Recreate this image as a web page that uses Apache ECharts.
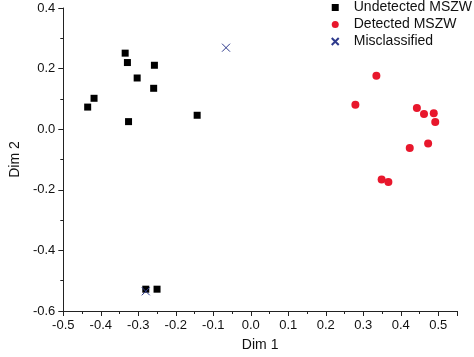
<!DOCTYPE html>
<html>
<head>
<meta charset="utf-8">
<script src="https://cdn.jsdelivr.net/npm/echarts@6/dist/echarts.min.js"></script>
<style>html,body{margin:0;padding:0;background:#fff}#c{width:474px;height:357px}</style>
</head>
<body>
<div id="c"></div>
<script>
var seriesNames = ['Undetected MSZW', 'Detected MSZW', 'Misclassified'];
var undetected = [
  [-0.435, 0.073], [-0.418, 0.102], [-0.335, 0.251], [-0.329, 0.220],
  [-0.303, 0.169], [-0.257, 0.211], [-0.259, 0.135], [-0.326, 0.025],
  [-0.143, 0.046], [-0.280, -0.528], [-0.250, -0.528]
];
var detected = [
  [0.335, 0.176], [0.279, 0.081], [0.443, 0.070], [0.462, 0.050],
  [0.488, 0.053], [0.492, 0.024], [0.473, -0.047], [0.424, -0.062],
  [0.349, -0.166], [0.367, -0.174]
];
var misclassified = [
  [-0.066, 0.269], [-0.280, -0.535]
];
var xTicks = {min: -0.5, max: 0.55, interval: 0.1};
var yTicks = {min: -0.6, max: 0.4, interval: 0.2};

var xPath = 'path://M0,0L10,10M10,0L0,10';
var font = 'Liberation Sans, Arial, sans-serif';
var chart = echarts.init(document.getElementById('c'), null, {renderer: 'canvas'});
function fmt(v) {
  var r = Math.round(v * 10) / 10;
  if (Math.abs(v - r) > 1e-6) return '';
  return r.toFixed(1);
}
var axisCommon = {
  axisLine: {show: true, onZero: false, lineStyle: {color: '#222', width: 1}},
  axisTick: {show: true, inside: false, length: 5, lineStyle: {color: '#222'}},
  minorTick: {show: true, splitNumber: 2, length: 3, lineStyle: {color: '#222'}},
  splitLine: {show: false},
  axisLabel: {color: '#111', fontSize: 13, fontFamily: font, formatter: fmt},
  nameTextStyle: {color: '#111', fontSize: 14, fontFamily: font}
};
chart.setOption({
  animation: false,
  backgroundColor: '#fff',
  grid: {left: 50, right: 17, top: 8, bottom: 44, containLabel: false},
  legend: {
    orient: 'vertical', right: 2, top: -1, itemGap: 0, padding: 0,
    itemWidth: 7, itemHeight: 7,
    textStyle: {fontSize: 14, fontFamily: font, color: '#111', lineHeight: 17, padding: [0, 0, 0, 10]},
    data: [
      {name: seriesNames[0], itemStyle: {opacity: 1}},
      {name: seriesNames[1], itemStyle: {opacity: 1}},
      {name: seriesNames[2]}
    ]
  },
  xAxis: Object.assign({}, axisCommon, {
    type: 'value', min: xTicks.min, max: xTicks.max, interval: xTicks.interval,
    name: 'Dim 1', nameLocation: 'middle', nameGap: 27,
    axisLabel: Object.assign({}, axisCommon.axisLabel, {showMaxLabel: false})
  }),
  yAxis: Object.assign({}, axisCommon, {
    type: 'value', min: yTicks.min, max: yTicks.max, interval: yTicks.interval,
    name: 'Dim 2', nameLocation: 'middle', nameGap: 31
  }),
  series: [
    {name: seriesNames[0], type: 'scatter', symbol: 'rect', symbolSize: 7,
     itemStyle: {color: '#000', opacity: 1}, data: undetected},
    {name: seriesNames[1], type: 'scatter', symbol: 'circle', symbolSize: 8,
     itemStyle: {color: '#e8172c', opacity: 1}, data: detected},
    {name: seriesNames[2], type: 'scatter', symbol: xPath, symbolSize: 8,
     itemStyle: {color: 'rgba(0,0,0,0)', borderColor: '#2e3a8c', borderWidth: 1, opacity: 1}, data: misclassified}
  ]
});
</script>
</body>
</html>
